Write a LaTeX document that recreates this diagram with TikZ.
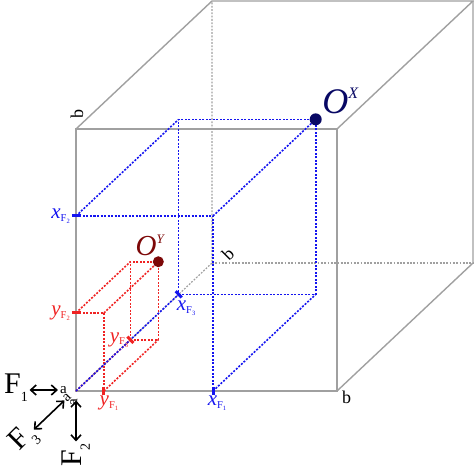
\documentclass[tikz,border=0pt]{standalone}
\usepackage{fontspec}
\setmainfont{Liberation Serif}
\usetikzlibrary{arrows.meta, positioning}
\definecolor{cubegray}{RGB}{160,160,160}
\definecolor{xblue}{RGB}{20,20,240}
\definecolor{yred}{RGB}{240,35,35}
\definecolor{oxnavy}{RGB}{8,8,100}
\definecolor{oydark}{RGB}{125,8,8}

% label like x_{F_1}
\newcommand{\flab}[2]{\textit{#1}\raisebox{-0.3ex}{\fontsize{10.5}{11}\selectfont F\raisebox{-0.45ex}{\fontsize{6.5}{7}\selectfont #2}}}

\begin{document}
\begin{tikzpicture}[
        x={(261pt,0pt)}, y={(0pt,262pt)}, z={(136pt,128pt)},
        cube/.style={draw=cubegray, line width=1.4pt},
        hidden/.style={draw=cubegray, line width=1.2pt, dash pattern=on 1.8pt off 1.5pt},
        xbox/.style={draw=xblue, line width=1.6pt, dash pattern=on 2pt off 1.5pt},
        ybox/.style={draw=yred, line width=1.6pt, dash pattern=on 2pt off 1.5pt},
        xtick/.style={draw=xblue, line width=3pt},
        ytick/.style={draw=yred, line width=3pt},
        xlab/.style={text=xblue, font=\fontsize{21}{22}\selectfont, inner sep=1pt},
        ylab/.style={text=yred, font=\fontsize{21}{22}\selectfont, inner sep=1pt},
        blab/.style={font=\fontsize{18}{19}\selectfont, inner sep=0pt},
        alab/.style={font=\fontsize{15}{16}\selectfont, inner sep=0pt},
        flab/.style={font=\fontsize{30}{31}\selectfont, inner sep=1.5pt},
        dbl/.style={{Straight Barb[length=5.5pt,width=10pt]}-{Straight Barb[length=5.5pt,width=10pt]}, line width=1.6pt}
        ]
        \useasboundingbox (-76pt,-76pt) rectangle (398pt,391pt);

        % Cube corners
        \coordinate (o) at (0,0,0);
        \coordinate (fbr) at (1,0,0);
        \coordinate (ftr) at (1,1,0);
        \coordinate (ftl) at (0,1,0);
        \coordinate (bbl) at (0,0,1);
        \coordinate (bbr) at (1,0,1);
        \coordinate (btr) at (1,1,1);
        \coordinate (btl) at (0,1,1);

        % Points of the blue box
        \coordinate (xF1) at (0.525,0,0);
        \coordinate (xF2) at (0,0.668,0);
        \coordinate (xF3) at (0,0,0.755);
        \coordinate (x12) at (0.525,0.668,0);
        \coordinate (x13) at (0.525,0,0.755);
        \coordinate (x23) at (0,0.668,0.755);
        \coordinate (OX) at (0.525,0.668,0.755);

        % Points of the red box
        \coordinate (yF1) at (0.107,0,0);
        \coordinate (yF2) at (0,0.298,0);
        \coordinate (yF3) at (0,0,0.4);
        \coordinate (y12) at (0.107,0.298,0);
        \coordinate (y13) at (0.107,0,0.4);
        \coordinate (y23) at (0,0.298,0.4);
        \coordinate (OY) at (0.107,0.298,0.4);

        % Cube
        \draw [hidden] (o) -- (bbl) -- (btl);
        \draw [hidden] (bbl) -- (bbr);
        \draw [cube] (o) rectangle (ftr);
        \draw [cube] (ftl) -- (btl) -- (btr) -- (ftr);
        \draw [cube] (btr) -- (bbr) -- (fbr);

        % Red box
        \draw [ybox] (yF2) -- (y12) -- (yF1);
        \draw [ybox] (yF1) -- (y13);
        \draw [ybox] (y12) -- (OY);
        \draw [ybox] (yF2) -- (y23);
        \draw [ybox] (yF3) -- (y13) -- (OY) -- (y23) -- cycle;
        \draw [ybox] (o) -- (yF3);

        % Blue box
        \draw [xbox] (xF2) -- (x12) -- (xF1);
        \draw [xbox] (xF1) -- (x13);
        \draw [xbox] (x12) -- (OX);
        \draw [xbox] (xF2) -- (x23);
        \draw [xbox] (xF3) -- (x13) -- (OX) -- (x23) -- cycle;
        \draw [xbox] (o) -- (xF3);

        % Ticks
        \draw [ytick] ([yshift=4pt]yF1) -- ([yshift=-4pt]yF1);
        \draw [ytick] ([xshift=-4pt]yF2) -- ([xshift=5pt]yF2);
        \draw [ytick] ([shift={(-3pt,3.2pt)}]yF3) -- ([shift={(3pt,-3.2pt)}]yF3);
        \draw [xtick] ([yshift=4pt]xF1) -- ([yshift=-4pt]xF1);
        \draw [xtick] ([xshift=-4pt]xF2) -- ([xshift=5pt]xF2);
        \draw [xtick] ([shift={(-3pt,3.2pt)}]xF3) -- ([shift={(3pt,-3.2pt)}]xF3);

        % Nodes
        \node (OXdot) [circle, fill=oxnavy, inner sep=0pt, minimum size=12pt] at (OX) {};
        \node (OYdot) [circle, fill=oydark, inner sep=0pt, minimum size=11pt] at (OY) {};
        \node (OXlab) [above right=0pt and 1pt of OXdot, text=oxnavy, font=\fontsize{36}{37}\selectfont, inner sep=1pt]
            {\textit{O}\raisebox{15pt}{\fontsize{16}{16}\selectfont\textit{X}}};
        \node (OYlab) [above=-1pt of OYdot, xshift=-8pt, text=oydark, font=\fontsize{29}{30}\selectfont, inner sep=1pt]
            {\textit{O}\raisebox{12pt}{\fontsize{13}{13}\selectfont\textit{Y}}};

        \node (lxF1) [xlab, below=4pt of xF1, xshift=4pt] {\flab{x}{1}};
        \node (lxF2) [xlab, left=5pt of xF2] {\flab{x}{2}};
        \node (lxF3) [xlab, below right=5pt and -3pt of xF3] {\flab{x}{3}};
        \node (lyF1) [ylab, below=4pt of yF1, xshift=5pt] {\flab{y}{1}};
        \node (lyF2) [ylab, left=5pt of yF2] {\flab{y}{2}};
        \node (lyF3) [ylab, left=1pt of yF3] {\flab{y}{3}};

        \node (b1) [blab, below right=0pt and 5pt of fbr] {b};
        \node (b2) [blab, rotate=90] at ([shift={(1pt,15pt)}]ftl) {b};
        \node (b3) [blab, rotate=45] at ([shift={(16pt,9pt)}]bbl) {b};

        \node (a1) [alab] at ([shift={(-12.5pt,1pt)}]o) {a};
        \node (a3) [alab, rotate=45] at ([shift={(-9pt,-7pt)}]o) {a};
        \node (a2) [alab, rotate=90] at ([shift={(-2pt,-11pt)}]o) {a};

        \node (F1) [flab] at ([shift={(-60pt,3pt)}]o) {F\raisebox{-8pt}{\fontsize{14}{14}\selectfont 1}};
        \node (F3) [flab, rotate=45] at ([shift={(-52pt,-48pt)}]o) {F\raisebox{-8pt}{\fontsize{14}{14}\selectfont 3}};
        \node (F2) [flab, rotate=90] at ([shift={(0pt,-64pt)}]o) {F\raisebox{-8pt}{\fontsize{14}{14}\selectfont 2}};

        % Arrows
        \draw [dbl] (F1.east |- a1.west) -- ([xshift=-2pt]a1.west);
        \draw [dbl] (F3) -- (a3);
        \draw [dbl] (F2) -- ([yshift=-2pt]F2 |- a2.east);

    \end{tikzpicture}
\end{document}
